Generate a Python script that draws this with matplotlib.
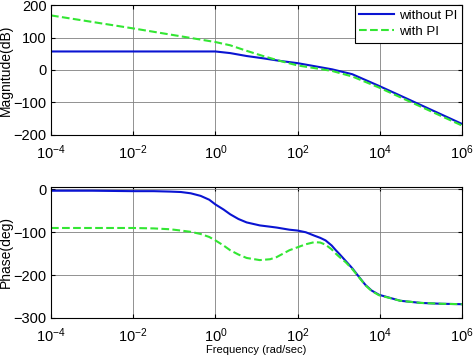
import numpy as np
import matplotlib
matplotlib.use("Agg")
import matplotlib.pyplot as plt

plt.rcParams["font.family"] = ["Liberation Sans", "DejaVu Sans"]

# log10 of frequency (rad/sec) and values
logw_mag = [-4, -3, -2, -1, 0, 0.36, 0.76, 1.16, 1.57, 2.0, 2.4, 2.84, 3.33, 3.98,
            4.5, 5.0, 5.5, 6.0]
mag_without = [57, 57, 57, 57, 57, 52, 43, 36, 28, 21, 12, 2, -13, -49,
               -79, -108, -137, -166]
mag_with = [168, 148, 128, 107, 86, 76, 59, 43, 28, 14, 6, -3, -20, -54,
            -84, -113, -142, -171]

logw_ph = [-4, -3, -2, -1.5, -1.1, -0.84, -0.6, -0.36, -0.15, 0, 0.2, 0.36, 0.56, 0.76,
           1.08, 1.33, 1.49, 1.8, 2.0, 2.2, 2.41, 2.55, 2.68, 2.83, 2.93, 3.01, 3.17,
           3.33, 3.5, 3.65, 3.8, 3.98, 4.5, 5.0, 5.5, 6.0]
ph_without = [-3, -3, -4, -4, -5, -6, -9, -15, -24, -35, -47, -58, -69, -77,
              -84, -87, -89, -94, -96, -100, -108, -113, -119, -131, -142, -150, -167,
              -184, -205, -223, -236, -246, -260, -265, -267, -268]
ph_with = [-90, -90, -90, -91, -93, -96, -99, -104, -111, -119, -131, -142, -152, -160,
           -165, -163, -158, -142, -135, -128, -123, -124, -129, -140, -150, -157, -170,
           -186, -206, -224, -237, -247, -260, -265, -267, -268]

blue = "#0a14d2"
green = "#33e633"

w_mag = 10.0 ** np.array(logw_mag)
w_ph = 10.0 ** np.array(logw_ph)

fig = plt.figure(figsize=(4.74, 3.58), dpi=100)
ax1 = fig.add_axes([0.1076, 0.623, 0.8671, 0.363])
ax2 = fig.add_axes([0.1076, 0.112, 0.8671, 0.366])

ax1.semilogx(w_mag, mag_without, color=blue, lw=1.5, label="without PI")
ax1.semilogx(w_mag, mag_with, color=green, lw=1.5, ls="--", label="with PI")
ax1.set_ylim(-200, 200)
ax1.set_yticks([-200, -100, 0, 100, 200])
ax1.set_ylabel("Magnitude(dB)", fontsize=10)
leg = ax1.legend(loc="upper right", fontsize=9.5, fancybox=False, framealpha=1,
                 edgecolor="black", borderaxespad=0.0, handlelength=2.6,
                 borderpad=0.35, labelspacing=0.3, handletextpad=0.4)
leg.get_frame().set_linewidth(0.8)

ax2.semilogx(w_ph, ph_without, color=blue, lw=1.5)
ax2.semilogx(w_ph, ph_with, color=green, lw=1.5, ls="--")
ax2.set_ylim(-300, 6)
ax2.set_yticks([-300, -200, -100, 0])
ax2.set_ylabel("Phase(deg)", fontsize=10)
ax2.set_xlabel("Frequency (rad/sec)", fontsize=8, labelpad=0)

for ax in (ax1, ax2):
    ax.set_xlim(1e-4, 1e6)
    ax.set_xticks([1e-4, 1e-2, 1e0, 1e2, 1e4, 1e6])
    ax.minorticks_off()
    ax.grid(True, color="#808080", lw=0.6)
    ax.tick_params(direction="in", top=True, right=True, labelsize=10.5, length=3)
    ax.tick_params(axis="x", pad=6)
    ax.tick_params(axis="y", pad=3)
    ax.yaxis.set_label_coords(-0.093, 0.5)
    for s in ax.spines.values():
        s.set_linewidth(0.8)

fig.savefig("out.png", dpi=100)
